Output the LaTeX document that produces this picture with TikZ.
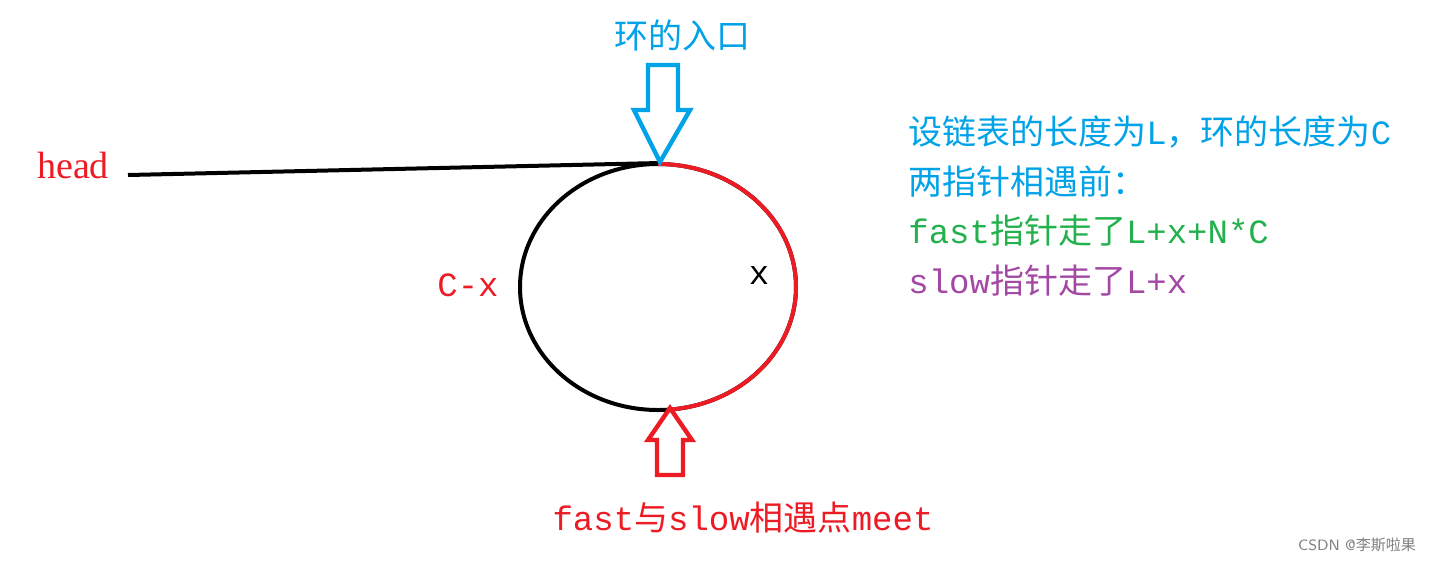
\documentclass[tikz,border=0pt]{standalone}
\usepackage{fontspec}
\setmainfont{Liberation Mono}
\newfontfamily\cjk{Noto Sans CJK SC}
\definecolor{bl}{RGB}{0,162,232}
\definecolor{rd}{RGB}{237,28,36}
\definecolor{gr}{RGB}{34,177,76}
\definecolor{pu}{RGB}{163,73,164}
\begin{document}
\begin{tikzpicture}[x=0.5pt,y=-0.5pt,
  lbl/.style={inner sep=0pt,font=\fontsize{17}{20}\selectfont},
  lft/.style={lbl,anchor=west}]
\useasboundingbox (0,0) rectangle (1442,564);
\fill[white] (0,0) rectangle (1442,564);
\coordinate (top) at (660,163);
\coordinate (hd) at (128,175);
\draw[line width=2pt] (hd) -- (top);
\draw[line width=2pt] (658,287) ellipse [x radius=138, y radius=123];
\draw[rd,line width=2pt] (658,164) arc[start angle=-90,end angle=84,x radius=138,y radius=123];
% blue arrow
\draw[bl,line width=2.2pt,line join=miter] (648,65) -- (678,65) -- (678,110) -- (690,110) -- (660,162) -- (634,110) -- (648,110) -- cycle;
% red arrow
\draw[rd,line width=2.2pt,line join=miter] (657,475) -- (683,475) -- (683,440) -- (692,440) -- (670,408) -- (648,440) -- (657,440) -- cycle;
\node[lbl,text=bl] (entry) at (682,35) {\cjk 环的入口};
\node[lbl,text=rd,font=\fontsize{19}{22}\selectfont\rmfamily] (head) at (73,165) {\fontspec{Liberation Serif}head};
\node[lbl,text=rd] (cx) at (468,285) {C-x};
\node[lbl] (x) at (759,276) {x};
\node[lft,text=bl] (l1) at (908,132) {{\cjk 设链表的长度为}L{\cjk ，环的长度为}C};
\node[lft,text=bl] (l2) at (908,182) {\cjk 两指针相遇前：};
\node[lft,text=gr] (l3) at (908,231) {fast{\cjk 指针走了}L+x+N*C};
\node[lft,text=pu] (l4) at (908,281) {slow{\cjk 指针走了}L+x};
\node[lbl,text=rd] (meet) at (743,518) {fast{\cjk 与}slow{\cjk 相遇点}meet};
\node[inner sep=0pt,text=gray,font=\fontsize{7.5}{9}\selectfont\sffamily] (csdn) at (1357,545) {CSDN @{\cjk 李斯啦果}};
\end{tikzpicture}
\end{document}
